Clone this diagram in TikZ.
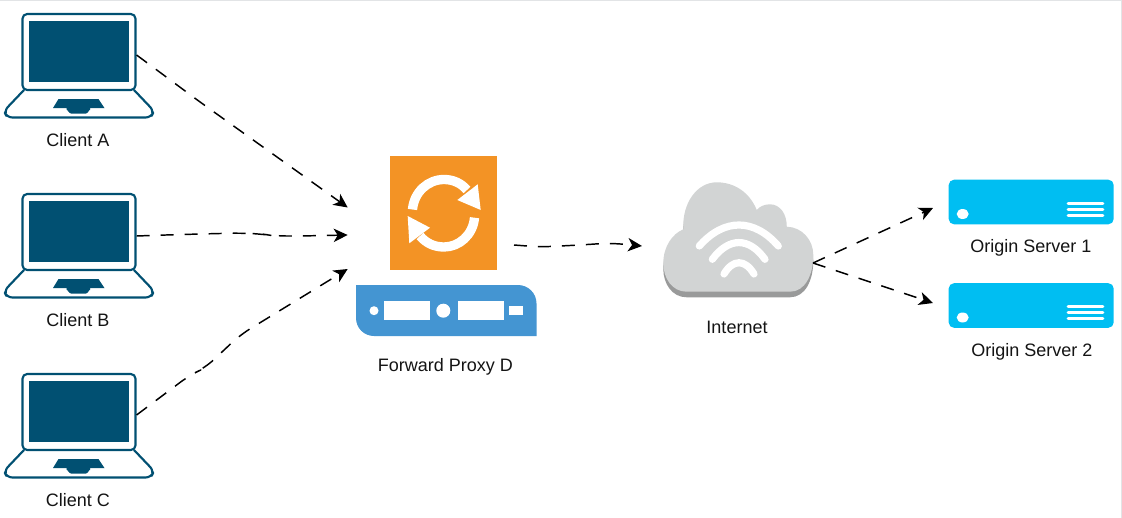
\documentclass[tikz,border=0pt]{standalone}
\usepackage{fontspec}
\setmainfont{Liberation Sans}
\usetikzlibrary{arrows.meta}
\definecolor{laptopc}{HTML}{015072}
\definecolor{proxyo}{HTML}{F39325}
\definecolor{proxyb}{HTML}{4495D2}
\definecolor{cloudl}{HTML}{D2D4D4}
\definecolor{cloudd}{HTML}{999A9A}
\definecolor{serverc}{HTML}{00BEF2}
\definecolor{framec}{HTML}{E2E4E6}
\tikzset{
  x=0.75pt,y=-0.75pt,
  lbl/.style={inner sep=0pt,font=\fontsize{13.5pt}{15pt}\selectfont,text=black!92},
  flow/.style={draw=black,line width=1.1pt,dash pattern=on 9.75pt off 8.25pt,line join=round,rounded corners=9pt,
    -{Stealth[length=10.5pt,width=10pt,inset=3pt]}},
  screen/.style={draw=laptopc,fill=white,line width=1.6pt,rounded corners=3.5pt,
    minimum width=84.75pt,minimum height=57pt,inner sep=0pt},
  wifi/.style={draw=white,line width=5.4pt,line cap=round},
  hole/.style={fill=white},
}
\begin{document}
\begin{tikzpicture}
\useasboundingbox (0,0) rectangle (1122,518);
\fill[white] (0,0) rectangle (1122,518);
\draw[framec,line width=0.9pt] (0,0.5) -- (1122,0.5);
\draw[framec,line width=0.9pt] (1121.5,0) -- (1121.5,518);

% laptops
\foreach \n/\dy in {A/0,B/180,C/360}{
\begin{scope}[shift={(0,\dy)}]
  \draw[laptopc,line width=1.6pt,line join=round,rounded corners=4pt,fill=white]
    (24,90) -- (4,111) -- (7,117.5) -- (151,117.5) -- (154,111) -- (134,90);
  \node[screen] (client\n) at (79,52) {};
  \fill[laptopc] (29,21) rectangle (128.5,82);
  \fill[laptopc] (53,108) -- (58.5,99) -- (98.5,99) -- (104.5,108) -- (90,108)
    -- (90,110) to[out=90,in=0] (86,113.5) -- (71,113.5) to[out=180,in=90] (66.5,110) -- (66.5,108) -- cycle;
\end{scope}
}
\node[lbl] (labelA) at (78,140) {Client A};
\node[lbl] (labelB) at (78,320) {Client B};
\node[lbl] (labelC) at (78,500) {Client C};

% proxy
\fill[proxyo] (390,155.5) rectangle (497,270);
\draw[white,line width=7pt]
  (412.5,209.5) .. controls (414,192) and (428,179.5) .. (444,179.5)
  .. controls (453,179.5) and (461,183) .. (467,190);
\fill[white] (477.7,184.3) -- (480.7,210) -- (457.3,200) -- cycle;
\draw[white,line width=7pt]
  (474.5,217.7) .. controls (473,235) and (459,247) .. (444,247)
  .. controls (434,247) and (426,243) .. (420,236);
\fill[white] (407.7,216) -- (430,227.7) -- (409.3,243.3) -- cycle;
\fill[proxyb] (356,285) -- (518,285) .. controls (528,285) and (536.5,293) .. (536.5,303.5) -- (536.5,336)
  -- (374,336) .. controls (364,336) and (356,328) .. (356,318) -- cycle;
\fill[hole] (374,310.7) circle[radius=4.5];
\fill[hole] (384,301) rectangle (430,320.3);
\fill[hole] (443.3,310.7) circle[radius=7];
\fill[hole] (458,301) rectangle (503.7,320.3);
\fill[hole] (508.7,305.7) rectangle (522.7,315.3);
\node[lbl] (labelD) at (445.5,367) {Forward Proxy D};

% cloud
\def\cloudpath{(686.7,291.7) .. controls (672,291.7) and (663.3,278) .. (663.3,263.3)
  .. controls (663.3,247) and (672,234) .. (683.3,229.3)
  .. controls (682,203) and (697,182.3) .. (716.7,182.3)
  .. controls (735,182.3) and (750,193) .. (756.7,210)
  .. controls (760,206) and (765,204.3) .. (770,204.3)
  .. controls (780,204.3) and (787,214) .. (786.7,226.7)
  .. controls (802,227) and (813.3,240) .. (813.3,255)
  .. controls (813.3,275) and (805,291.7) .. (790,291.7) -- cycle}
\begin{scope}[shift={(0,5.6)}]
\fill[cloudd] \cloudpath;
\end{scope}
\fill[cloudl] \cloudpath;
\draw[wifi] (699.3,246) .. controls (724,218) and (754,218) .. (778.3,246);
\draw[wifi] (712.3,259.3) .. controls (729,237) and (749,237) .. (765,259.3);
\draw[wifi] (724,274) .. controls (733,259) and (745,259) .. (754,274);
\node[lbl] (labelI) at (737,327) {Internet};

% servers
\foreach \n/\dy in {1/0,2/103.5}{
\begin{scope}[shift={(0,\dy)}]
  \fill[serverc,rounded corners=4pt] (948.7,179.7) rectangle (1113.7,224.3);
  \fill[white] (962.7,214) ellipse[x radius=6,y radius=5];
  \foreach \yy in {203.3,209.3,215.3}
    \draw[white,line width=2pt,line cap=round] (1068,\yy) -- (1103,\yy);
\end{scope}
}
\node[lbl] (labelS1) at (1031,248) {Origin Server 1};
\node[lbl] (labelS2) at (1032,352) {Origin Server 2};

% connector ends
\coordinate (inA) at (347.7,207.5);
\coordinate (inB) at (347.7,235);
\coordinate (inC) at (347.7,269);
\coordinate (outD) at (514,245);
\coordinate (inI) at (642,246);
\coordinate (outI) at (813,263);
\coordinate (inS1) at (933,208);
\coordinate (inS2) at (933,303);

\draw[flow] (clientA.east |- 0,55) -- (200,102) -- (270,152) -- (inA);
\draw[flow] (clientB.east |- 0,236) -- (165,235) -- (200,234) -- (240,233) -- (262,234) -- (275,236) -- (300,236) -- (inB);
\draw[flow] (clientC.east |- 0,415) -- (190,375) -- (205,368) -- (240,335) -- (inC);
\draw[flow] (outD) -- (540,247) -- (580,245) -- (610,243) -- (inI);
\draw[flow] (outI) -- (inS1);
\draw[flow] (outI) -- (inS2);
\end{tikzpicture}
\end{document}
